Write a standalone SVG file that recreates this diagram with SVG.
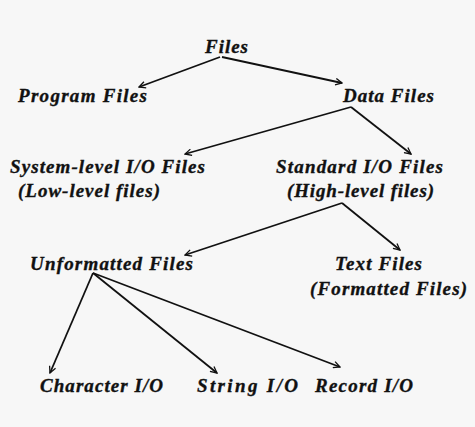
<svg xmlns="http://www.w3.org/2000/svg" width="475" height="427" viewBox="0 0 475 427">
<style>
text{font-family:"Liberation Serif","Times New Roman","DejaVu Serif",serif;font-weight:bold;font-style:italic;font-size:19px;fill:#111;stroke:#111;stroke-width:0.35}
.c line{stroke:#111;stroke-width:1.8;marker-end:url(#ah)}
</style>
<defs>
<marker id="ah" viewBox="0 0 10 10" refX="9" refY="5" markerWidth="4.5" markerHeight="4.5" orient="auto" markerUnits="strokeWidth">
<path d="M1,1 L9,5 L1,9" fill="none" stroke="#111" stroke-width="1.6"/>
</marker>
</defs>
<rect width="475" height="427" fill="#f7f7f7"/>
<g class="c" id="connectors">
<line x1="220" y1="57" x2="139" y2="87"/>
<line x1="222" y1="57" x2="342" y2="83"/>
<line x1="351" y1="107" x2="185" y2="154"/>
<line x1="351" y1="107" x2="411" y2="154"/>
<line x1="342" y1="203" x2="185" y2="255"/>
<line x1="342" y1="203" x2="400" y2="250"/>
<line x1="93" y1="273" x2="50" y2="373"/>
<line x1="93" y1="273" x2="217" y2="373"/>
<line x1="93" y1="273" x2="340" y2="367"/>
</g>
<g id="files"><text x="205" y="53" textLength="43" lengthAdjust="spacing">Files</text></g>
<g id="program"><text x="18" y="102" textLength="129" lengthAdjust="spacing">Program Files</text></g>
<g id="data"><text x="343" y="102" textLength="91" lengthAdjust="spacing">Data Files</text></g>
<g id="system"><text x="10" y="173" textLength="195" lengthAdjust="spacing">System-level I/O Files</text><text x="18" y="197" textLength="142" lengthAdjust="spacing">(Low-level files)</text></g>
<g id="standard"><text x="276" y="173" textLength="167" lengthAdjust="spacing">Standard I/O Files</text><text x="287" y="197" textLength="147" lengthAdjust="spacing">(High-level files)</text></g>
<g id="unformatted"><text x="30" y="270" textLength="163" lengthAdjust="spacing">Unformatted Files</text></g>
<g id="text"><text x="335" y="270" textLength="87" lengthAdjust="spacing">Text Files</text><text x="310" y="295" textLength="157" lengthAdjust="spacing">(Formatted Files)</text></g>
<g id="character"><text x="40" y="392" textLength="123" lengthAdjust="spacing">Character I/O</text></g>
<g id="string"><text x="197" y="392" textLength="101" lengthAdjust="spacing">String I/O</text></g>
<g id="record"><text x="315" y="392" textLength="98" lengthAdjust="spacing">Record I/O</text></g>
</svg>
